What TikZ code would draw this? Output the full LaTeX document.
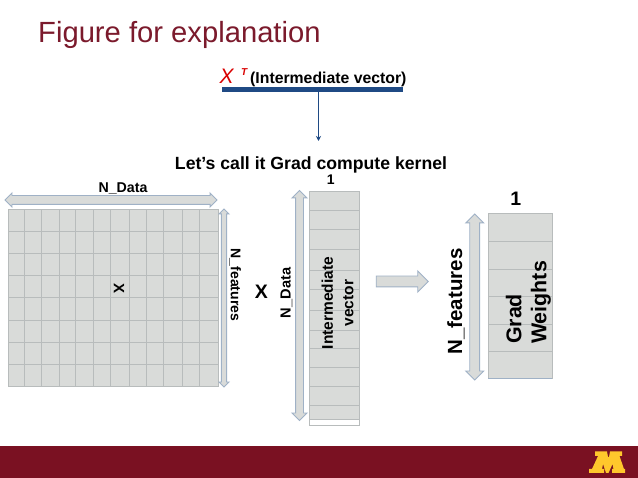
\documentclass[tikz,border=0pt]{standalone}
\usepackage{fontspec}
\setmainfont{Liberation Sans}
\usetikzlibrary{shapes.arrows,arrows.meta}
\definecolor{maroon}{HTML}{7A1122}
\definecolor{titlered}{HTML}{7B1A2C}
\definecolor{gold}{HTML}{FFC72C}
\definecolor{cellfill}{HTML}{D9DBD9}
\definecolor{cellline}{HTML}{B8BCBC}
\definecolor{arrowedge}{HTML}{9FB1C6}
\definecolor{barblue}{HTML}{1F4A84}
\tikzset{
  cell/.style={fill=cellfill,draw=cellline,line width=0.9pt},
  gridline/.style={draw=cellline,line width=0.8pt},
  lab/.style={font=\bfseries,text=black,inner sep=0pt},
  dblarrow/.style 2 args={shape=double arrow,draw=arrowedge,fill=cellfill,line width=0.9pt,inner xsep=0pt,inner ysep=#1,double arrow head extend=#2},
  blockarrow/.style={shape=single arrow,draw=arrowedge,fill=cellfill,line width=0.9pt,inner xsep=0pt,inner ysep=5pt,single arrow head extend=5pt}
}
\begin{document}
\begin{tikzpicture}[x=1pt,y=-1pt]
\useasboundingbox (0,0) rectangle (638,478);
\fill[white] (0,0) rectangle (638,478);
% footer
\fill[maroon] (0,446) rectangle (638,478);
\fill[gold] (589,473) -- (589,469) -- (592,469) -- (598,456) -- (595,456) -- (595,451.5) -- (607,451.5) -- (608,457) -- (609,457)-- (610,451.5) -- (622,451.5) -- (622,456) -- (619.5,456) -- (624,469) -- (625,469) -- (625,473) -- (612,473) -- (612,469) -- (613.5,469) -- (612.5,464) -- (608.5,473) -- (606,473) -- (603,464) -- (602,469) -- (604,469) -- (604,473) -- cycle;
% title
\node[anchor=base west,inner sep=0pt,text=titlered,font=\fontsize{29.2}{29}\selectfont] (title) at (38,43) {Figure for explanation};
% top
\node[anchor=base west,inner sep=0pt,text=red!85!black,font=\fontsize{21}{21}\selectfont\itshape] (xsym) at (219.5,84) {X};
\node[anchor=base west,inner sep=0pt,text=red!85!black,font=\fontsize{10}{10}\selectfont\bfseries\itshape] (tsym) at (241,76) {T};
\node[anchor=base west,lab,font=\fontsize{15.8}{15.8}\selectfont\bfseries] (intv) at (250,84) {(Intermediate vector)};
\node[fill=barblue,inner sep=0pt,minimum width=181pt,minimum height=5pt] (bar) at (312.5,89.5) {};
\coordinate (arrowend) at (318.5,141);
\draw[barblue,line width=0.8pt,-{Stealth[length=5pt,width=5pt]}] (bar.south -| arrowend) -- (arrowend);
\node[anchor=base,lab,font=\fontsize{17.65}{17}\selectfont\bfseries] (kern) at (311,169.5) {Let’s call it Grad compute kernel};
% X matrix
\path[cell] (8,209.5) rectangle (218,386.5);
\foreach \x in {24.3,41.7,59,75.7,93.3,110.7,129.3,146,163.3,182.3,199.3}
  \draw[gridline] (\x,209.5) -- (\x,386.5);
\foreach \y in {231,253.7,275.7,297.7,320.3,342.3,364}
  \draw[gridline] (8,\y) -- (218,\y);
\node[lab,font=\fontsize{15}{15}\selectfont\bfseries,rotate=-90] (xin) at (119,288.5) {X};
\node[dblarrow={4pt}{2.5pt},minimum height=212pt] (ndarrow) at (111,200) {};
\node[lab,font=\fontsize{14.2}{14}\selectfont\bfseries,anchor=base] (ndlab) at (123,192.5) {N\_Data};
\node[dblarrow={2.2pt}{2.3pt},minimum height=178pt,rotate=90] (nfarrow) at (224,298) {};
\node[lab,font=\fontsize{14}{14}\selectfont\bfseries,rotate=-90] (nflab) at (235,285) {N\_features};
% times
\node[lab,font=\fontsize{19.5}{19}\selectfont\bfseries] (times) at (261.5,292) {X};
% middle vector
\node[dblarrow={3.5pt}{3.5pt},minimum height=230pt,rotate=90] (mdarrow) at (299.5,305.5) {};
\node[lab,font=\fontsize{14.6}{14}\selectfont\bfseries,rotate=90] (mdlab) at (286.5,293) {N\_Data};
\draw[cellline,fill=white,line width=0.7pt] (309,419) rectangle (359.7,425.7);
\path[cell] (309,191.7) rectangle (359.7,419.3);
\foreach \y in {210.7,229.3,249.3,270,289.3,310,330,348.3,367.3,386.7,405}
  \draw[gridline] (309,\y) -- (359.7,\y);
\node[lab,font=\fontsize{15.5}{20.5}\selectfont\bfseries,rotate=90,align=center] (ivlab) at (337.5,303) {Intermediate\\vector};
\node[lab,font=\fontsize{14}{14}\selectfont\bfseries,anchor=base] (one1) at (330.7,185) {1};
% block arrow
\node[blockarrow,minimum height=52pt] (mid) at (399.5,281.5) {};
% right vector
\node[dblarrow={4.5pt}{4pt},minimum height=166pt,rotate=90] (nfarrow2) at (474.7,297) {};
\node[lab,font=\fontsize{20.5}{20}\selectfont\bfseries,rotate=90] (nflab2) at (456,301.5) {N\_features};
\path[cell] (488.3,213.3) rectangle (552.3,378);
\draw[arrowedge,line width=0.9pt] (488.3,378.3) -- (552.3,378.3);
\foreach \y in {241,269,296.3,324,351.7}
  \draw[gridline] (488.3,\y) -- (552.3,\y);
\node[lab,font=\fontsize{21.4}{25}\selectfont\bfseries,rotate=90,align=left] (gwlab) at (528.5,302.5) {Grad\\Weights};
\node[lab,font=\fontsize{19.5}{19}\selectfont\bfseries,anchor=base] (one2) at (515.7,206) {1};
\end{tikzpicture}
\end{document}
